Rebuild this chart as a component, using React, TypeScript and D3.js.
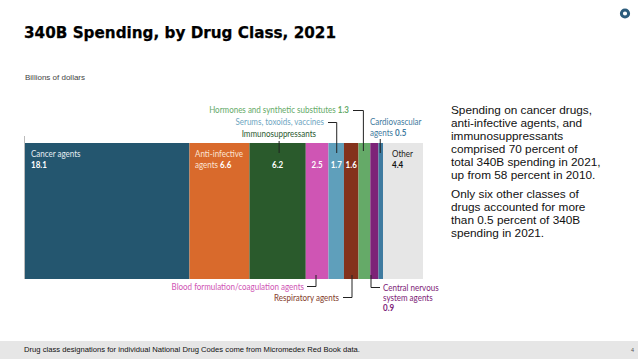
import React from "react";
import * as d3 from "d3";

const categories = ["Cancer agents","Anti-infective agents","Immunosuppressants","Blood formulation/coagulation agents","Serums, toxoids, vaccines","Respiratory agents","Hormones and synthetic substitutes","Central nervous system agents","Cardiovascular agents","Other"];
const values = [18.1,6.6,6.2,2.5,1.7,1.6,1.3,0.9,0.5,4.4];
const colors = ["#24566f","#d96a2c","#2a5a2c","#cf55b4","#5f9fbb","#84321c","#65aa68","#7d2378","#3f7ba0","#e6e6e6"];
const bodyOne = ["Spending on cancer drugs,","anti-infective agents, and","immunosuppressants","comprised 70 percent of","total 340B spending in 2021,","up from 58 percent in 2010."];
const bodyTwo = ["Only six other classes of","drugs accounted for more","than 0.5 percent of 340B","spending in 2021."];

const F = "Lato, sans-serif";
const A = "'Liberation Sans', Arial, sans-serif";

const T = ({ x, y, ...p }: any) => (
  <text transform={`translate(${x},${y}) scale(0.88,1)`} fontFamily={F} fontSize={9.1} {...p} />
);

export default function App() {
  const total = d3.sum(values);
  const x = d3.scaleLinear().domain([0, total]).range([25, 423]);
  const y0 = 143, y1 = 279;
  const cum = d3.cumsum(values);
  const starts = values.map((_, i) => (i === 0 ? 0 : cum[i - 1]));
  const mid = (i: number) => x(starts[i] + values[i] / 2);
  const ln = "#222";
  return (
    <svg width={638} height={359} style={{ position: "fixed", left: 0, top: 0, display: "block", background: "#fff" }}>
      <text x={24} y={38} fontFamily="'DejaVu Sans', Verdana, sans-serif" fontWeight={700} fontSize={15.6} stroke="#000" strokeWidth={0.25} fill="#000" textLength={312} lengthAdjust="spacingAndGlyphs">340B Spending, by Drug Class, 2021</text>
      <text x={25} y={80} fontFamily={A} fontSize={8} fill="#444">Billions of dollars</text>
      <line x1={24.5} x2={24.5} y1={136} y2={279} stroke="#bbb" strokeWidth={1} />
      {values.map((v, i) => (
        <rect key={categories[i]} x={x(starts[i])} y={y0} width={x(cum[i]) - x(starts[i])} height={y1 - y0} fill={colors[i]} />
      ))}
      <T x={31} y={157} fill="#e4edf2">Cancer agents</T>
      <T x={31} y={168} fill="#fff" fontWeight={700}>{values[0]}</T>
      <T x={195} y={157} fill="#fbe3d3">Anti-infective</T>
      <T x={195} y={168} fill="#fbe3d3">agents <tspan fontWeight={700} fill="#fff">{values[1]}</tspan></T>
      <T x={mid(2)} y={168} fill="#fff" fontWeight={700} textAnchor="middle">{values[2]}</T>
      <T x={mid(3)} y={168} fill="#fff" fontWeight={700} textAnchor="middle">{values[3]}</T>
      <T x={mid(4)} y={168} fill="#fff" fontWeight={700} textAnchor="middle">{values[4]}</T>
      <T x={mid(5)} y={168} fill="#fff" fontWeight={700} textAnchor="middle">{values[5]}</T>
      <T x={392} y={157} fill="#222">Other</T>
      <T x={392} y={168} fill="#111" fontWeight={700}>{values[9]}</T>

      <T x={349} y={112.5} fill="#65aa68" textAnchor="end">{categories[6]} <tspan fontWeight={700}>{values[6]}</tspan></T>
      <T x={324} y={124.5} fill="#6fa6c2" textAnchor="end">{categories[4]}</T>
      <T x={316} y={136.5} fill="#2c5a30" textAnchor="end">{categories[2]}</T>
      <T x={370} y={125} fill="#3f7ba0">Cardiovascular</T>
      <T x={370} y={135.5} fill="#3f7ba0">agents <tspan fontWeight={700}>{values[8]}</tspan></T>
      <T x={304} y={290} fill="#cf55b4" textAnchor="end">{categories[3]}</T>
      <T x={339} y={301} fill="#84402c" textAnchor="end">{categories[5]}</T>
      <T x={383} y={290.5} fill="#7d2378">Central nervous</T>
      <T x={383} y={300.5} fill="#7d2378">system agents</T>
      <T x={383} y={311} fill="#7d2378" fontWeight={700}>{values[7]}</T>

      <path d={`M${mid(2) + 1.5} 141V153`} stroke={ln} fill="none" />
      <path d={`M328 122.5H${mid(4) + 0.5}V153`} stroke={ln} fill="none" />
      <path d={`M353 110.5H${mid(6) - 1}V151`} stroke={ln} fill="none" />
      <path d={`M${mid(8) - 0.5} 139V153`} stroke={ln} fill="none" />
      <path d={`M307 286.5H316V275`} stroke={ln} fill="none" />
      <path d={`M343 297.5H352V275`} stroke={ln} fill="none" />
      <path d={`M371 275V287.5H380`} stroke={ln} fill="none" />

      {bodyOne.map((t, i) => (
        <text key={t} x={451} y={114 + i * 13} fontFamily={A} fontSize={11.8} fill="#111">{t}</text>
      ))}
      {bodyTwo.map((t, i) => (
        <text key={t} x={451} y={197.5 + i * 13} fontFamily={A} fontSize={11.8} fill="#111">{t}</text>
      ))}

      <circle cx={625} cy={13.5} r={3.6} fill="#fff" stroke="#2c5c7c" strokeWidth={3} />

      <rect x={0} y={341} width={638} height={18} fill="#e6e6e6" />
      <text x={24} y={351.5} fontFamily={A} fontSize={7.65} fill="#111">Drug class designations for individual National Drug Codes come from Micromedex Red Book data.</text>
      <text x={631} y={352} fontFamily={A} fontSize={5.5} fill="#555">4</text>
    </svg>
  );
}
